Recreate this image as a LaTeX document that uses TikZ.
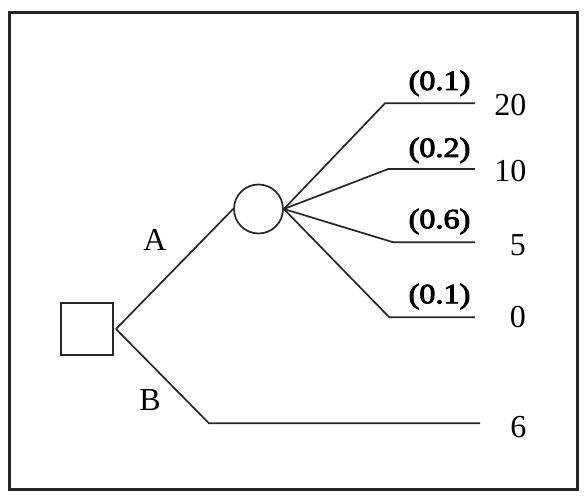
\documentclass[tikz,border=0pt]{standalone}
\usepackage{graphicx}
\usepackage{fontspec}
\setmainfont{Liberation Serif}
\newfontfamily\probfont[FakeBold=3]{Liberation Serif}
\newcommand{\probtxt}[1]{\scalebox{1.15}[1]{#1}}
\tikzset{
  tline/.style={line width=1.7pt, black!85},
  lbl/.style={inner sep=0pt, font=\fontsize{32}{36}\selectfont},
  prob/.style={inner sep=0pt, anchor=base, font=\probfont\fontsize{28}{30}\selectfont},
  val/.style={inner sep=0pt, anchor=base east, font=\fontsize{32}{36}\selectfont},
}
\begin{document}
\begin{tikzpicture}[x=1pt,y=-1pt]
\useasboundingbox (0,0) rectangle (587,503);
\draw[line width=2.5pt, black!85] (9.5,12.5) rectangle (577.5,489.5);
% nodes
\node[draw, line width=2pt, black!85, minimum size=52pt, inner sep=0pt] (dec) at (86.8,328.7) {};
\node[draw, circle, line width=1.7pt, black!85, minimum size=49pt, inner sep=0pt] (chance) at (258.5,209) {};
\coordinate (dA) at (116,329);
% kinks and ends
\coordinate (k1) at (385,103.3);  \coordinate (e1) at (475,103.3);
\coordinate (k2) at (388.3,169);  \coordinate (e2) at (475,169);
\coordinate (k3) at (393.3,242.3); \coordinate (e3) at (475,242.3);
\coordinate (k4) at (389.3,317.3); \coordinate (e4) at (475,317.3);
\coordinate (kB) at (209,423.3); \coordinate (eB) at (480,423.3);
% connectors
\draw[tline] (dA) -- (chance.west);
\draw[tline] (dA) -- (kB) -- (eB);
\draw[tline] (chance.east) -- (k1) -- (e1);
\draw[tline] (chance.east) -- (k2) -- (e2);
\draw[tline] (chance.east) -- (k3) -- (e3);
\draw[tline] (chance.east) -- (k4) -- (e4);
% labels
\node[lbl, anchor=base] (la) at (155,250) {A};
\node[lbl, anchor=base] (lb) at (150,410) {B};
\node[prob] (p1) at (439.5,90) {\probtxt{(0.1)}};
\node[prob] (p2) at (439.5,157) {\probtxt{(0.2)}};
\node[prob] (p3) at (439.5,228.3) {\probtxt{(0.6)}};
\node[prob] (p4) at (439.5,303.3) {\probtxt{(0.1)}};
\node[val] (v1) at (526.5,116) {20};
\node[val] (v2) at (526.5,181.7) {10};
\node[val] (v3) at (526,255) {5};
\node[val] (v4) at (526,327.5) {0};
\node[val] (v5) at (526.5,437) {6};
\end{tikzpicture}
\end{document}
